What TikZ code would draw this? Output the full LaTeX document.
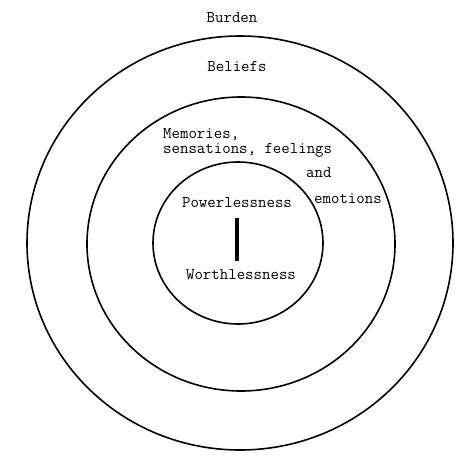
\documentclass[tikz,border=0pt]{standalone}
\usetikzlibrary{positioning}

\begin{document}
\begin{tikzpicture}[x=1pt, y=-1pt, every node/.style={inner sep=0pt, font=\ttfamily\fontsize{16.4}{18}\selectfont}]
          \useasboundingbox (0, 0) rectangle (474, 466);
          \draw[line width=1.6pt] (240, 243) ellipse [x radius=213, y radius=207];
          \draw[line width=1.6pt] (241, 244) ellipse [x radius=154, y radius=147];
          \draw[line width=1.6pt] (238, 243) ellipse [x radius=85, y radius=81];
          \node[anchor=base] (burden) at (232, 22) {Burden};
          \node[anchor=base] (beliefs) at (237, 71) {Beliefs};
          \node[anchor=base west] (memories) at (163, 138) {Memories,};
          \node[anchor=base west] (sensations) at (163, 153) {sensations, feelings};
          \node[anchor=base west] (and) at (306, 177) {and};
          \node[anchor=base west] (emotions) at (314, 203) {emotions};
          \node[anchor=base] (power) at (237, 207) {Powerlessness};
          \node[anchor=base] (worth) at (241, 279) {Worthlessness};
          \coordinate (bartop) at (237, 218);
          \coordinate (barbot) at (237, 261);
          \draw[line width=3.5pt] (bartop) -- (barbot);
        \end{tikzpicture}
\end{document}
